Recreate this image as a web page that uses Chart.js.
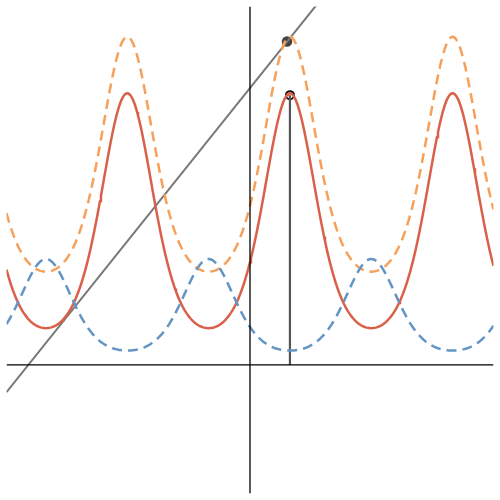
<!DOCTYPE html><html><head><script src="https://cdn.jsdelivr.net/npm/chart.js@4"></script>
<style>body{margin:0;background:#fff}#w{width:500px;height:500px}</style></head><body><div id="w"><canvas id="c"></canvas></div>
<script>
// curve parameters (pixel-like units, origin at axes crossing)
const period = 167, peakX = 41;
const redAmp = 102.6, orangeShift = 58, blueAmp = 40;
const lineIntercept = 284.3, lineSlope = 1.249;
const markerPoint = [38, 332];
const hollowPoint = [41, 277];
const xs = [];
for (let x = -250; x <= 250; x += 1) xs.push(x);
const w = 2 * Math.PI / period;
const red = xs.map(x => ({x, y: redAmp * Math.exp(Math.cos(w * (x - peakX)))}));
const orange = red.map(p => ({x: p.x, y: p.y + orangeShift}));
const blue = xs.map(x => ({x, y: blueAmp * Math.exp(-Math.cos(w * (x - peakX)))}));
const line = [{x: -250, y: lineIntercept - 250 * lineSlope}, {x: 250, y: lineIntercept + 250 * lineSlope}];
const base = {pointRadius: 0, fill: false, tension: 0, borderWidth: 2.5};
new Chart(document.getElementById('c'), {
  type: 'line',
  data: {datasets: [
    {...base, data: [{x: -250, y: 0}, {x: 250, y: 0}], borderColor: '#000', borderWidth: 1.3},
    {...base, data: [{x: 0, y: -132}, {x: 0, y: 368}], borderColor: '#000', borderWidth: 1.3},
    {...base, data: blue, borderColor: '#6295c6', borderDash: [10, 6]},
    {...base, data: orange, borderColor: '#f6a05a', borderDash: [10, 6]},
    {...base, data: red, borderColor: '#d9614a'},
    {...base, data: line, borderColor: '#777', borderWidth: 2},
    {...base, data: [{x: hollowPoint[0], y: 0}, {x: hollowPoint[0], y: hollowPoint[1]}], borderColor: '#555', borderWidth: 2.2},
    {...base, data: [{x: markerPoint[0], y: markerPoint[1]}], pointRadius: 4, pointBackgroundColor: '#444', pointBorderColor: '#444', showLine: false},
    {...base, data: [{x: hollowPoint[0], y: hollowPoint[1]}], pointRadius: 4, pointBackgroundColor: '#fff', pointBorderColor: '#111', pointBorderWidth: 2, showLine: false}
  ]},
  options: {responsive: true, maintainAspectRatio: false, animation: false, layout: {padding: 0},
    plugins: {legend: {display: false}, tooltip: {enabled: false}},
    scales: {x: {type: 'linear', min: -250, max: 250, display: false}, y: {min: -132, max: 368, display: false}}}
});
</script></body></html>
